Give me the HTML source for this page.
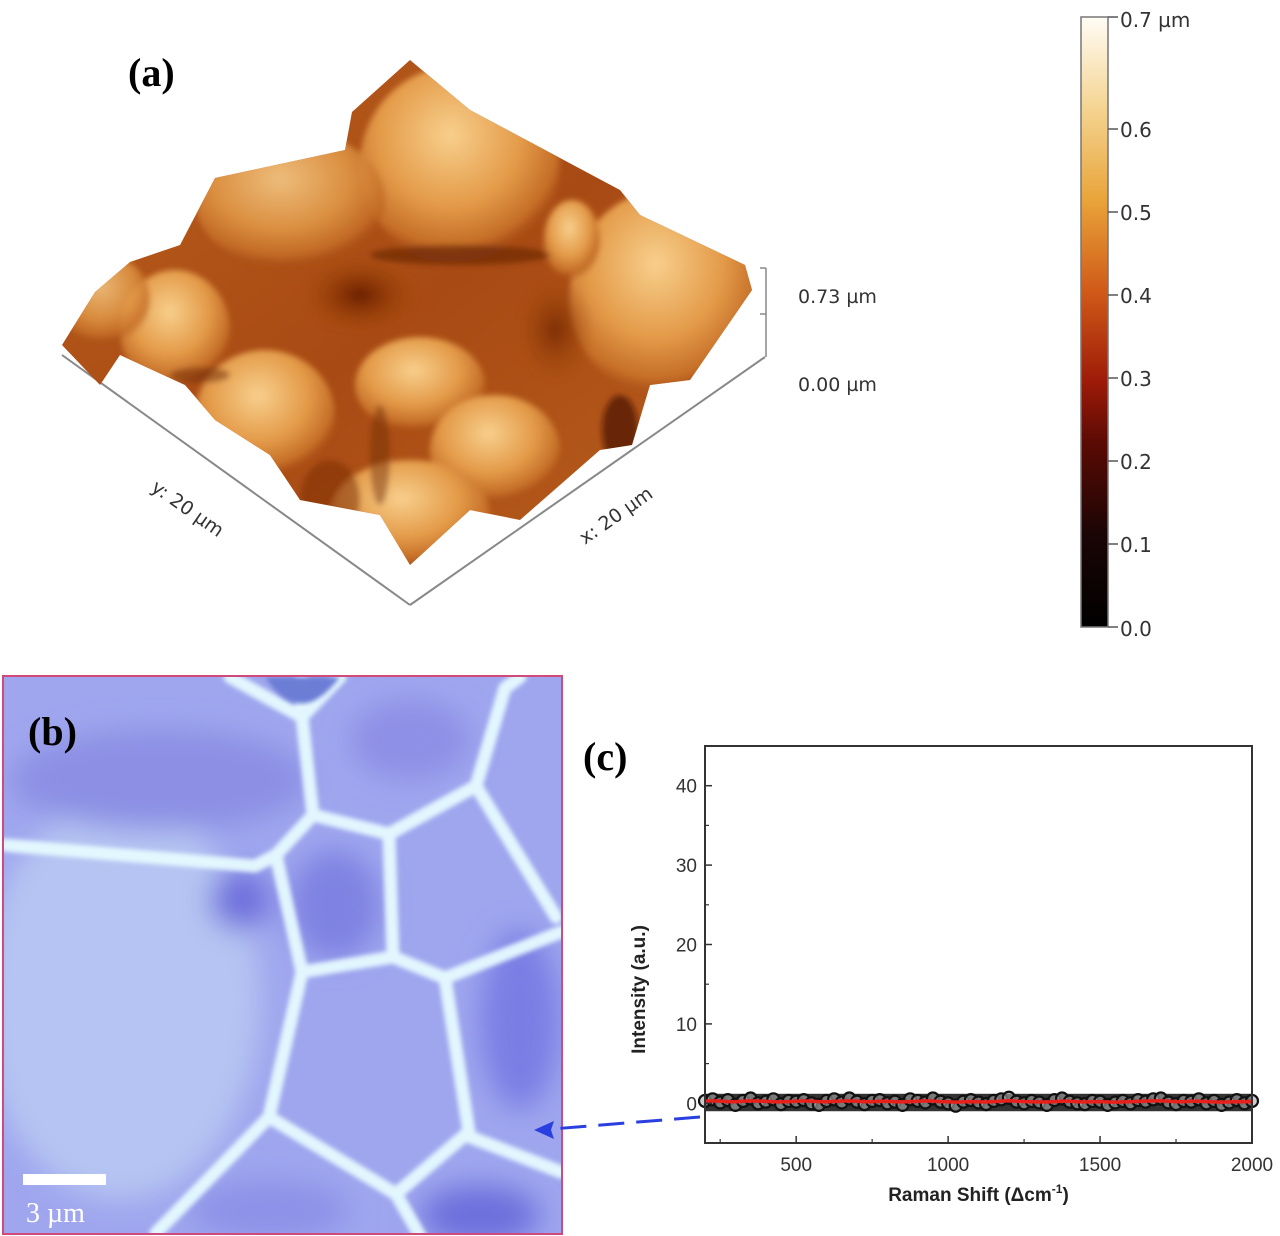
<!DOCTYPE html>
<html><head><meta charset="utf-8"><style>
html,body{margin:0;padding:0;background:#fff;}
body{width:1280px;height:1236px;position:relative;overflow:hidden;font-family:"Liberation Sans",sans-serif;}
svg{position:absolute;left:0;top:0;}
</style></head><body>
<svg width="1280" height="1236" viewBox="0 0 1280 1236">
<defs>
<linearGradient id="cbar" x1="0" y1="1" x2="0" y2="0">
<stop offset="0" stop-color="#000"/><stop offset="0.15" stop-color="#1a0505"/><stop offset="0.3" stop-color="#5a0a04"/><stop offset="0.4" stop-color="#9c1a08"/><stop offset="0.55" stop-color="#d05a18"/><stop offset="0.7" stop-color="#e9a43a"/><stop offset="0.85" stop-color="#f4d491"/><stop offset="1" stop-color="#fffdf6"/>
</linearGradient>
<linearGradient id="surf" x1="0" y1="0" x2="1" y2="1">
<stop offset="0" stop-color="#b9601e"/><stop offset="0.5" stop-color="#a84a14"/><stop offset="1" stop-color="#b9601e"/>
</linearGradient>
<radialGradient id="grain" cx="0.45" cy="0.35" r="0.65">
<stop offset="0" stop-color="#f8cf8c"/><stop offset="0.55" stop-color="#e39a48"/><stop offset="0.85" stop-color="#c46c26"/><stop offset="1" stop-color="#a04512" stop-opacity="0"/>
</radialGradient>
<radialGradient id="pit" cx="0.5" cy="0.5" r="0.5">
<stop offset="0" stop-color="#6a2006"/><stop offset="1" stop-color="#a0450f" stop-opacity="0"/>
</radialGradient>
<filter id="blur"><feGaussianBlur stdDeviation="3"/></filter>
<filter id="blur2"><feGaussianBlur stdDeviation="14"/></filter>
<filter id="blur3"><feGaussianBlur stdDeviation="2.5"/></filter>
<clipPath id="surfclip"><path d="M410,60 L470,110 L620,190 L640,215 L745,265 L752,290 L690,380 L650,385 L632,445 L600,450 L520,520 L470,510 L410,565 L380,515 L300,500 L270,455 L215,420 L185,385 L120,355 L100,385 L62,345 L95,292 L130,262 L180,245 L215,178 L345,150 L352,112 Z"/></clipPath>
<clipPath id="bclip"><rect x="4" y="677" width="557" height="556"/></clipPath>
</defs>

<g>
<text x="128" y="86" font-family="Liberation Serif,serif" font-weight="bold" font-size="40">(a)</text>
<line x1="62" y1="355" x2="410" y2="605" stroke="#888" stroke-width="2"/>
<line x1="410" y1="605" x2="765" y2="357" stroke="#888" stroke-width="2"/>
<line x1="766" y1="268" x2="766" y2="357" stroke="#888" stroke-width="1.5"/>
<line x1="760" y1="268" x2="766" y2="268" stroke="#888" stroke-width="1.5"/>
<line x1="760" y1="314" x2="766" y2="314" stroke="#888" stroke-width="1.5"/>
<text x="798" y="303" font-family="DejaVu Sans,sans-serif" font-size="19" fill="#333">0.73 µm</text>
<text x="798" y="391" font-family="DejaVu Sans,sans-serif" font-size="19" fill="#333">0.00 µm</text>
<text transform="translate(150,490) rotate(35)" font-family="DejaVu Sans,sans-serif" font-size="19" fill="#333">y: 20 µm</text>
<text transform="translate(585,545) rotate(-35)" font-family="DejaVu Sans,sans-serif" font-size="19" fill="#333">x: 20 µm</text>
<g clip-path="url(#surfclip)">
<rect x="40" y="50" width="730" height="530" fill="url(#surf)"/>
<g filter="url(#blur)">
<ellipse cx="460" cy="165" rx="100" ry="100" fill="url(#grain)"/>
<ellipse cx="290" cy="200" rx="95" ry="70" fill="url(#grain)" opacity="0.85"/>
<ellipse cx="665" cy="295" rx="95" ry="105" fill="url(#grain)"/>
<ellipse cx="175" cy="330" rx="55" ry="60" fill="url(#grain)"/>
<ellipse cx="265" cy="415" rx="70" ry="65" fill="url(#grain)"/>
<ellipse cx="420" cy="385" rx="65" ry="48" fill="url(#grain)"/>
<ellipse cx="495" cy="450" rx="65" ry="55" fill="url(#grain)"/>
<ellipse cx="410" cy="515" rx="80" ry="55" fill="url(#grain)"/>
<ellipse cx="572" cy="240" rx="28" ry="40" fill="url(#grain)"/>
<ellipse cx="105" cy="300" rx="45" ry="45" fill="url(#grain)" opacity="0.8"/>
<ellipse cx="360" cy="295" rx="60" ry="40" fill="url(#pit)"/>
<ellipse cx="555" cy="330" rx="40" ry="55" fill="url(#pit)" opacity="0.7"/>
<ellipse cx="620" cy="430" rx="18" ry="35" fill="#4a1404" opacity="0.7"/>
<ellipse cx="460" cy="255" rx="90" ry="10" fill="#6e2a08" opacity="0.7"/>
<ellipse cx="200" cy="375" rx="30" ry="8" fill="#6e2a08" opacity="0.5"/>
<ellipse cx="380" cy="455" rx="10" ry="50" fill="#6e2a08" opacity="0.45"/>
<ellipse cx="330" cy="500" rx="30" ry="40" fill="#7a2e0a" opacity="0.5"/>
</g>
</g>
</g>

<g>
<rect x="1081" y="17" width="27" height="610" fill="url(#cbar)" stroke="#777" stroke-width="1.5"/>
<g font-family="DejaVu Sans,sans-serif" font-size="20" fill="#333">
<line x1="1108" y1="17" x2="1118" y2="17" stroke="#555" stroke-width="1.5"/><text x="1120" y="27">0.7 µm</text>
<line x1="1108" y1="129" x2="1118" y2="129" stroke="#555" stroke-width="1.5"/><text x="1120" y="137">0.6</text>
<line x1="1108" y1="212" x2="1118" y2="212" stroke="#555" stroke-width="1.5"/><text x="1120" y="220">0.5</text>
<line x1="1108" y1="295" x2="1118" y2="295" stroke="#555" stroke-width="1.5"/><text x="1120" y="303">0.4</text>
<line x1="1108" y1="378" x2="1118" y2="378" stroke="#555" stroke-width="1.5"/><text x="1120" y="386">0.3</text>
<line x1="1108" y1="461" x2="1118" y2="461" stroke="#555" stroke-width="1.5"/><text x="1120" y="469">0.2</text>
<line x1="1108" y1="544" x2="1118" y2="544" stroke="#555" stroke-width="1.5"/><text x="1120" y="552">0.1</text>
<line x1="1108" y1="627" x2="1118" y2="627" stroke="#555" stroke-width="1.5"/><text x="1120" y="636">0.0</text>
</g>
</g>

<g>
<g clip-path="url(#bclip)">
<rect x="4" y="677" width="557" height="556" fill="#9fa6ee"/>
<g filter="url(#blur2)">
<ellipse cx="120" cy="1000" rx="140" ry="200" fill="#b5c4f2"/>
<ellipse cx="160" cy="780" rx="150" ry="50" fill="#8c8fe4"/>
<ellipse cx="240" cy="900" rx="30" ry="30" fill="#6f6fdc"/>
<ellipse cx="335" cy="905" rx="45" ry="55" fill="#7f82e2"/>
<ellipse cx="520" cy="1020" rx="40" ry="90" fill="#7a7ee4"/>
<ellipse cx="480" cy="1215" rx="60" ry="30" fill="#6d6fdc"/>
<ellipse cx="270" cy="1210" rx="80" ry="30" fill="#8e92e8"/>
<ellipse cx="410" cy="740" rx="60" ry="40" fill="#8e8fe6"/>
</g>
<g fill="none" stroke="#e6fbff" stroke-width="13" stroke-linejoin="round" stroke-linecap="round" opacity="0.95" filter="url(#blur3)">
<path d="M4,845 L255,866 L276,855 L313,815 L389,834 L476,786 L556,917"/>
<path d="M313,815 L302,717 L302,677"/>
<path d="M476,786 L505,688 L520,677"/>
<path d="M276,855 L302,972 L393,957 L389,834"/>
<path d="M302,972 L269,1117 L156,1233"/>
<path d="M269,1117 L396,1194 L465,1135 L561,1172"/>
<path d="M393,957 L445,978 L469,1132"/>
<path d="M445,978 L561,932"/>
<path d="M396,1194 L420,1236"/>
<path d="M230,677 L302,717 L340,677"/>
</g>
<path d="M265,677 Q300,730 340,677 Z" fill="#6c7dd6" filter="url(#blur3)"/>
</g>
<rect x="3" y="676" width="559" height="558" fill="none" stroke="#d04a7a" stroke-width="2"/>
<text x="28" y="745" font-family="Liberation Serif,serif" font-weight="bold" font-size="40">(b)</text>
<rect x="23" y="1174" width="83" height="11" fill="#fff"/>
<text x="26" y="1222" font-family="Liberation Serif,serif" font-size="28" fill="#fff">3 µm</text>
<line x1="700" y1="1117" x2="552" y2="1129" stroke="#2a3fe0" stroke-width="3" stroke-dasharray="26,12"/>
<path d="M534,1130 L554,1121 L551,1130 L554,1139 Z" fill="#2a3fe0"/>
</g>

<text x="583" y="770" font-family="Liberation Serif,serif" font-weight="bold" font-size="40">(c)</text>
<g id="chart"></g>
</svg>
<script>
const xTicks = [500, 1000, 1500, 2000];
const yTicks = [0, 10, 20, 30, 40];
const ramanShift = [200,225,250,275,300,325,350,375,400,425,450,475,500,525,550,575,600,625,650,675,700,725,750,775,800,825,850,875,900,925,950,975,1000,1025,1050,1075,1100,1125,1150,1175,1200,1225,1250,1275,1300,1325,1350,1375,1400,1425,1450,1475,1500,1525,1550,1575,1600,1625,1650,1675,1700,1725,1750,1775,1800,1825,1850,1875,1900,1925,1950,1975,2000];
const intensity = [0.3,0.5,0.1,0.4,-0.2,0.3,0.6,0.0,0.2,0.5,-0.1,0.3,0.2,0.4,0.0,-0.2,0.3,0.5,0.1,0.6,0.2,-0.1,0.3,0.4,0.0,0.2,-0.2,0.5,0.3,0.1,0.6,0.2,0.0,-0.3,0.2,0.4,0.1,-0.1,0.3,0.5,0.7,0.2,0.0,0.3,0.1,-0.2,0.4,0.6,0.2,0.0,-0.1,0.3,0.2,-0.2,0.1,0.3,0.0,0.4,0.2,0.5,0.6,0.1,-0.1,0.3,0.2,0.5,0.0,0.3,-0.2,0.1,0.4,0.0,0.3];
const fitLine = [0.25,0.3,0.28,0.22,0.2,0.25,0.3,0.28,0.24,0.2,0.18,0.22,0.26,0.3,0.27,0.22,0.2,0.24,0.28,0.3,0.25,0.2,0.22,0.26,0.24,0.2,0.18,0.22,0.27,0.3,0.28,0.22,0.2,0.15,0.18,0.22,0.2,0.17,0.22,0.28,0.32,0.27,0.22,0.2,0.18,0.17,0.22,0.28,0.25,0.2,0.18,0.2,0.22,0.16,0.15,0.18,0.2,0.24,0.28,0.3,0.3,0.25,0.2,0.22,0.25,0.27,0.22,0.18,0.15,0.18,0.22,0.2,0.22];
const NS='http://www.w3.org/2000/svg';
const L=705,R=1252,T=746,B=1143,xmin=200,xmax=2000,ymin=-5,ymax=45;
const sx=v=>L+(v-xmin)/(xmax-xmin)*(R-L);
const sy=v=>B-(v-ymin)/(ymax-ymin)*(B-T);
const g=document.getElementById('chart');
function mk(tag,attrs){const e=document.createElementNS(NS,tag);for(const k in attrs)e.setAttribute(k,attrs[k]);g.appendChild(e);return e;}
let e;
e=mk('rect',{x:L+1,y:sy(1.2),width:R-L-2,height:sy(-1.0)-sy(1.2),fill:'#333'});


ramanShift.forEach((x,i)=>{
  e=mk('circle',{cx:sx(x),cy:sy(intensity[i]),r:6,fill:'#aaa','fill-opacity':0.6,stroke:'#111','stroke-width':2.2});
  
  
});
let d='';
ramanShift.forEach((x,i)=>{d+=(i?'L':'M')+sx(x).toFixed(1)+','+sy(fitLine[i]).toFixed(1);});
e=mk('path',{d:d,fill:'none',stroke:'#e8201c','stroke-width':3.5});


e=mk('rect',{x:L,y:T,width:R-L,height:B-T,fill:'none',stroke:'#333','stroke-width':2});


yTicks.forEach(v=>{
  mk('line',{x1:L,x2:L+7,y1:sy(v),y2:sy(v),stroke:'#333','stroke-width':1.5});
  e=mk('text',{x:L-8,y:sy(v)+7,'text-anchor':'end','font-size':19,fill:'#333'});
  e.textContent=v;
  
  
});
[5,15,25,35].forEach(v=>mk('line',{x1:L,x2:L+4,y1:sy(v),y2:sy(v),stroke:'#333','stroke-width':1.2}));
xTicks.forEach(v=>{
  mk('line',{x1:sx(v),x2:sx(v),y1:B,y2:B-7,stroke:'#333','stroke-width':1.5});
  e=mk('text',{x:sx(v),y:B+28,'text-anchor':'middle','font-size':19,fill:'#333'});
  e.textContent=v;
  
  
});
[250,750,1250,1750].forEach(v=>mk('line',{x1:sx(v),x2:sx(v),y1:B,y2:B-4,stroke:'#333','stroke-width':1.2}));
e=mk('text',{x:(L+R)/2,y:B+58,'text-anchor':'middle','font-size':19,'font-weight':'bold',fill:'#222'});
e.innerHTML='Raman Shift (Δcm<tspan dy="-8" font-size="12">-1</tspan><tspan dy="8">)</tspan>';


e=mk('text',{transform:'translate(645,'+((T+B)/2+45)+') rotate(-90)','text-anchor':'middle','font-size':19,'font-weight':'bold',fill:'#222'});
e.textContent='Intensity (a.u.)';


</script>
</body></html>
